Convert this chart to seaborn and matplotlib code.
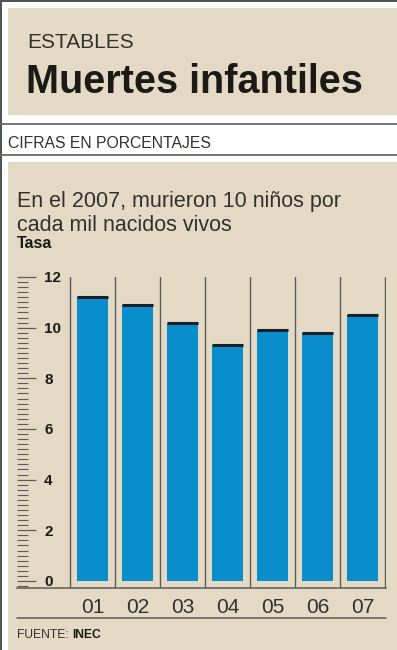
import numpy as np
import matplotlib
matplotlib.use("Agg")
import matplotlib.pyplot as plt
import seaborn as sns
from matplotlib.patches import Rectangle
from matplotlib.lines import Line2D
from matplotlib.ticker import MultipleLocator

# Data
years = ["01", "02", "03", "04", "05", "06", "07"]
tasa = [11.2, 10.9, 10.2, 9.3, 9.9, 9.8, 10.5]
y_ticks = [0, 2, 4, 6, 8, 10, 12]

BEIGE = "#e3d9c5"
BLUE = "#0a8dcb"
DARK = "#33312e"
GRAY = "#5d5b57"

sns.set_theme(style="white")
plt.rcParams["font.family"] = ["Liberation Sans", "DejaVu Sans"]

W, H = 397, 650
fig = plt.figure(figsize=(W / 100, H / 100), dpi=100)
fig.patch.set_facecolor("white")


def fx(px):
    return px / W


def fy(py):
    return 1 - py / H


# panels and frame
fig.add_artist(Rectangle((fx(8), fy(115)), fx(W - 8), 107 / H, transform=fig.transFigure,
                         facecolor=BEIGE, edgecolor="none", zorder=0))
fig.add_artist(Rectangle((fx(8), 0), fx(W - 8), fy(162), transform=fig.transFigure,
                         facecolor=BEIGE, edgecolor="none", zorder=0))
fig.add_artist(Rectangle((0, 0), fx(2), 1, transform=fig.transFigure,
                         facecolor="#4d5550", edgecolor="none", zorder=1))
fig.add_artist(Rectangle((0, fy(2)), 1, 2 / H, transform=fig.transFigure,
                         facecolor="#4d5550", edgecolor="none", zorder=1))
for yy in (124, 155):
    fig.add_artist(Line2D([0, 1], [fy(yy), fy(yy)], transform=fig.transFigure,
                          color="#6b6a66", lw=1.3))
fig.add_artist(Line2D([fx(17), fx(386)], [fy(618), fy(618)], transform=fig.transFigure,
                      color=GRAY, lw=1.1))

# texts
fig.text(fx(27), fy(48), "ESTABLES", fontsize=15, color=DARK, va="baseline")
fig.text(fx(26), fy(93), "Muertes infantiles", fontsize=28.5, fontweight="bold", color="#1c1a17",
         va="baseline")
fig.text(fx(8), fy(148), "CIFRAS EN PORCENTAJES", fontsize=11.3, color=DARK, va="baseline")
fig.text(fx(17), fy(207), "En el 2007, murieron 10 niños por", fontsize=15.5,
         color=DARK, va="baseline")
fig.text(fx(17), fy(231), "cada mil nacidos vivos", fontsize=15.5,
         color=DARK, va="baseline")
fig.text(fx(17), fy(248), "Tasa", fontsize=11.5, fontweight="bold", color="#1c1a17", va="baseline")
t = fig.text(fx(17), fy(638), "FUENTE: ", fontsize=8.7, color=DARK, va="baseline")
fig.canvas.draw()
bb = t.get_window_extent()
fig.text(bb.x1 / W, fy(638), "INEC", fontsize=8.7, fontweight="bold", color="#1c1a17", va="baseline")

# chart
ax = fig.add_axes([fx(17), fy(588), fx(386) - fx(17), (588 - 277) / H])
ax.set_facecolor("none")
sns.barplot(x=years, y=tasa, color=BLUE, width=0.71, saturation=1, linewidth=0,
            ax=ax, zorder=2)
ax.hlines(tasa, np.arange(len(years)) - 0.355, np.arange(len(years)) + 0.355,
          color="#14202b", lw=2.2, zorder=3)

ax.set_xlim(-0.5 - 53 / 45, -0.5 - 53 / 45 + 369 / 45)
ax.set_ylim(-0.28, 12)

for s in ("top", "left", "right"):
    ax.spines[s].set_visible(False)
ax.spines["bottom"].set_color(GRAY)
ax.spines["bottom"].set_linewidth(1.1)

ax.set_xticks(np.arange(-0.5, len(years)), minor=True)
ax.grid(False)
ax.grid(which="minor", axis="x", color=GRAY, lw=1.0)
ax.tick_params(axis="x", which="both", length=0)
ax.tick_params(axis="x", which="major", pad=7, labelsize=15, labelcolor=DARK)

ax.set_yticks(y_ticks)
ax.yaxis.set_minor_locator(MultipleLocator(0.2))
ax.tick_params(axis="y", which="major", direction="in", length=13.5, width=0.9, color=GRAY,
               pad=-19.5, labelsize=11, labelcolor="#1c1a17", left=True)
ax.tick_params(axis="y", which="minor", direction="in", length=8, width=0.8, color=GRAY, left=True)
for lab in ax.get_yticklabels():
    lab.set_horizontalalignment("left")
    lab.set_fontweight("bold")
ax.set_xlabel("")
ax.set_ylabel("")

fig.savefig("out.png", dpi=100)
